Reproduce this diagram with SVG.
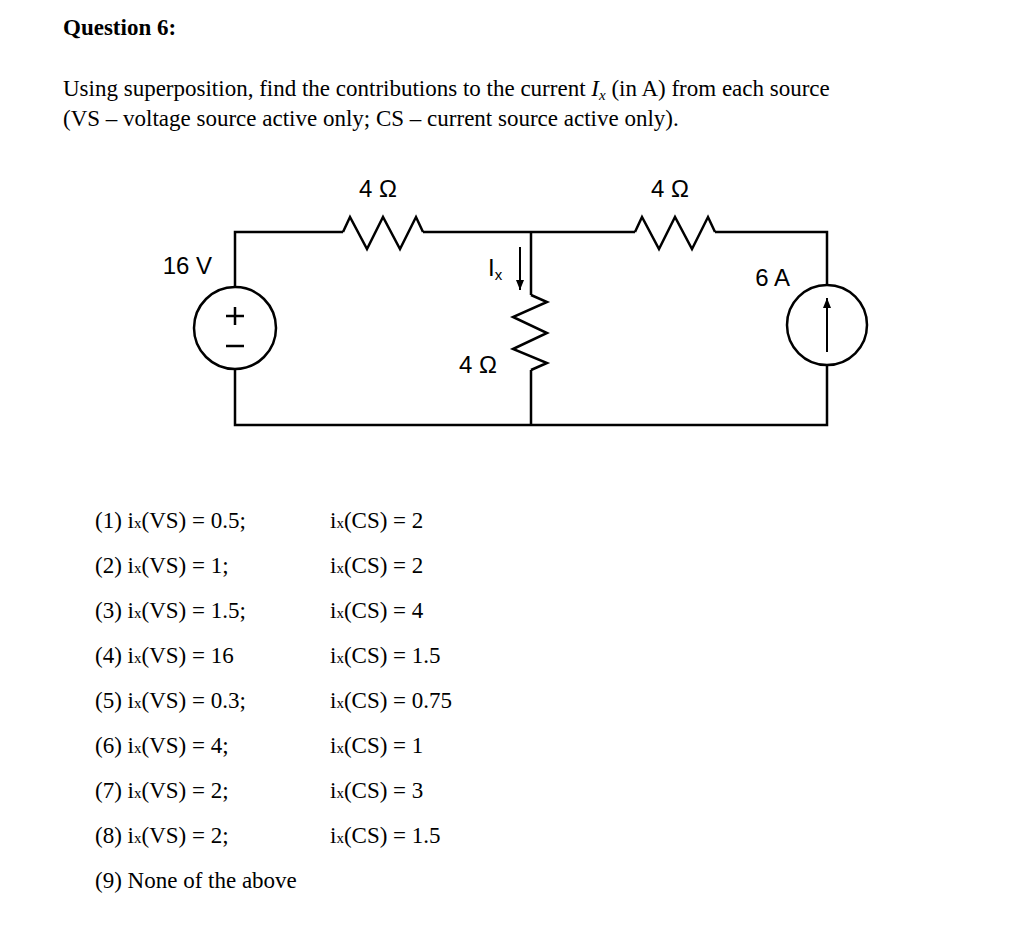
<svg xmlns="http://www.w3.org/2000/svg" width="1024" height="940" viewBox="0 0 1024 940">
<style>
.t{font-family:"Liberation Serif",serif;font-size:23px;fill:#000}
.c{font-family:"Liberation Sans",sans-serif;font-size:24px;fill:#000}
.w{fill:none;stroke:#000;stroke-width:2.5;stroke-linejoin:miter}
</style>
<defs><marker id="ah" markerWidth="8" markerHeight="10" refX="4" refY="9" orient="auto-start-reverse" markerUnits="userSpaceOnUse"><path d="M0,0 L4,10 L8,0 Z" transform="rotate(0)" fill="#000"/></marker>
<marker id="a2" viewBox="0 0 10 10" refX="10" refY="5" markerWidth="10" markerHeight="10" orient="auto" markerUnits="userSpaceOnUse"><path d="M0,1 L10,5 L0,9 Z" fill="#000"/></marker></defs>
<rect width="1024" height="940" fill="#fff"/>
<text class="t" x="63" y="35" font-weight="bold">Question 6:</text>
<text class="t" x="63" y="96">Using superposition, find the contributions to the current <tspan font-style="italic">I</tspan><tspan font-style="italic" font-size="15" dy="4">x</tspan><tspan dy="-4"> (in A) from each source</tspan></text>
<text class="t" x="63" y="126">(VS – voltage source active only; CS – current source active only).</text>
<g id="connectors">
<path class="w" d="M235,287 V232 H343 M423,232 H635 M715,232 H827 V285 M827,365 V425 H235 V369 M531,232 V295 M531,370 V425"/>
</g>
<g id="R1"><polyline class="w" points="343,232 350,217 367,249 383,217 400,249 416,217 423,232"/><text class="c" x="378" y="197" text-anchor="middle">4 Ω</text></g>
<g id="R2"><polyline class="w" points="635,232 642,217 659,249 675,217 692,249 708,217 715,232"/><text class="c" x="670" y="197" text-anchor="middle">4 Ω</text></g>
<g id="R3"><polyline class="w" points="531,295 547,302 513,317 547,333 513,349 547,363 531,370"/><text class="c" x="478" y="373" text-anchor="middle">4 Ω</text></g>
<g id="Ix"><line x1="520" y1="247" x2="520" y2="290" stroke="#000" stroke-width="2" marker-end="url(#a2)"/><text class="c" x="488" y="276" font-size="22">I<tspan font-size="15" dy="4">x</tspan></text></g>
<g id="VS"><circle class="w" cx="235" cy="328" r="41"/><path d="M226,316 H244 M235,307 V325 M226,346 H244" stroke="#000" stroke-width="2.5"/><text class="c" x="212" y="274" text-anchor="end">16 V</text></g>
<g id="CS"><circle class="w" cx="827" cy="325" r="40"/><line x1="827" y1="352" x2="827" y2="298" stroke="#000" stroke-width="2" marker-end="url(#a2)"/><text class="c" x="790" y="286" text-anchor="end">6 A</text></g>
<g id="options" class="t">
<text x="95" y="528">(1)  i<tspan font-size="15">x</tspan>(VS) = 0.5;</text><text x="330" y="528">i<tspan font-size="15">x</tspan>(CS) = 2</text>
<text x="95" y="573">(2)  i<tspan font-size="15">x</tspan>(VS) = 1;</text><text x="330" y="573">i<tspan font-size="15">x</tspan>(CS) = 2</text>
<text x="95" y="618">(3)  i<tspan font-size="15">x</tspan>(VS) = 1.5;</text><text x="330" y="618">i<tspan font-size="15">x</tspan>(CS) = 4</text>
<text x="95" y="663">(4)  i<tspan font-size="15">x</tspan>(VS) = 16</text><text x="330" y="663">i<tspan font-size="15">x</tspan>(CS) = 1.5</text>
<text x="95" y="708">(5)  i<tspan font-size="15">x</tspan>(VS) = 0.3;</text><text x="330" y="708">i<tspan font-size="15">x</tspan>(CS) = 0.75</text>
<text x="95" y="753">(6)  i<tspan font-size="15">x</tspan>(VS) = 4;</text><text x="330" y="753">i<tspan font-size="15">x</tspan>(CS) = 1</text>
<text x="95" y="798">(7)  i<tspan font-size="15">x</tspan>(VS) = 2;</text><text x="330" y="798">i<tspan font-size="15">x</tspan>(CS) = 3</text>
<text x="95" y="843">(8)  i<tspan font-size="15">x</tspan>(VS) = 2;</text><text x="330" y="843">i<tspan font-size="15">x</tspan>(CS) = 1.5</text>
<text x="95" y="888">(9)  None of the above</text>
</g>
</svg>
